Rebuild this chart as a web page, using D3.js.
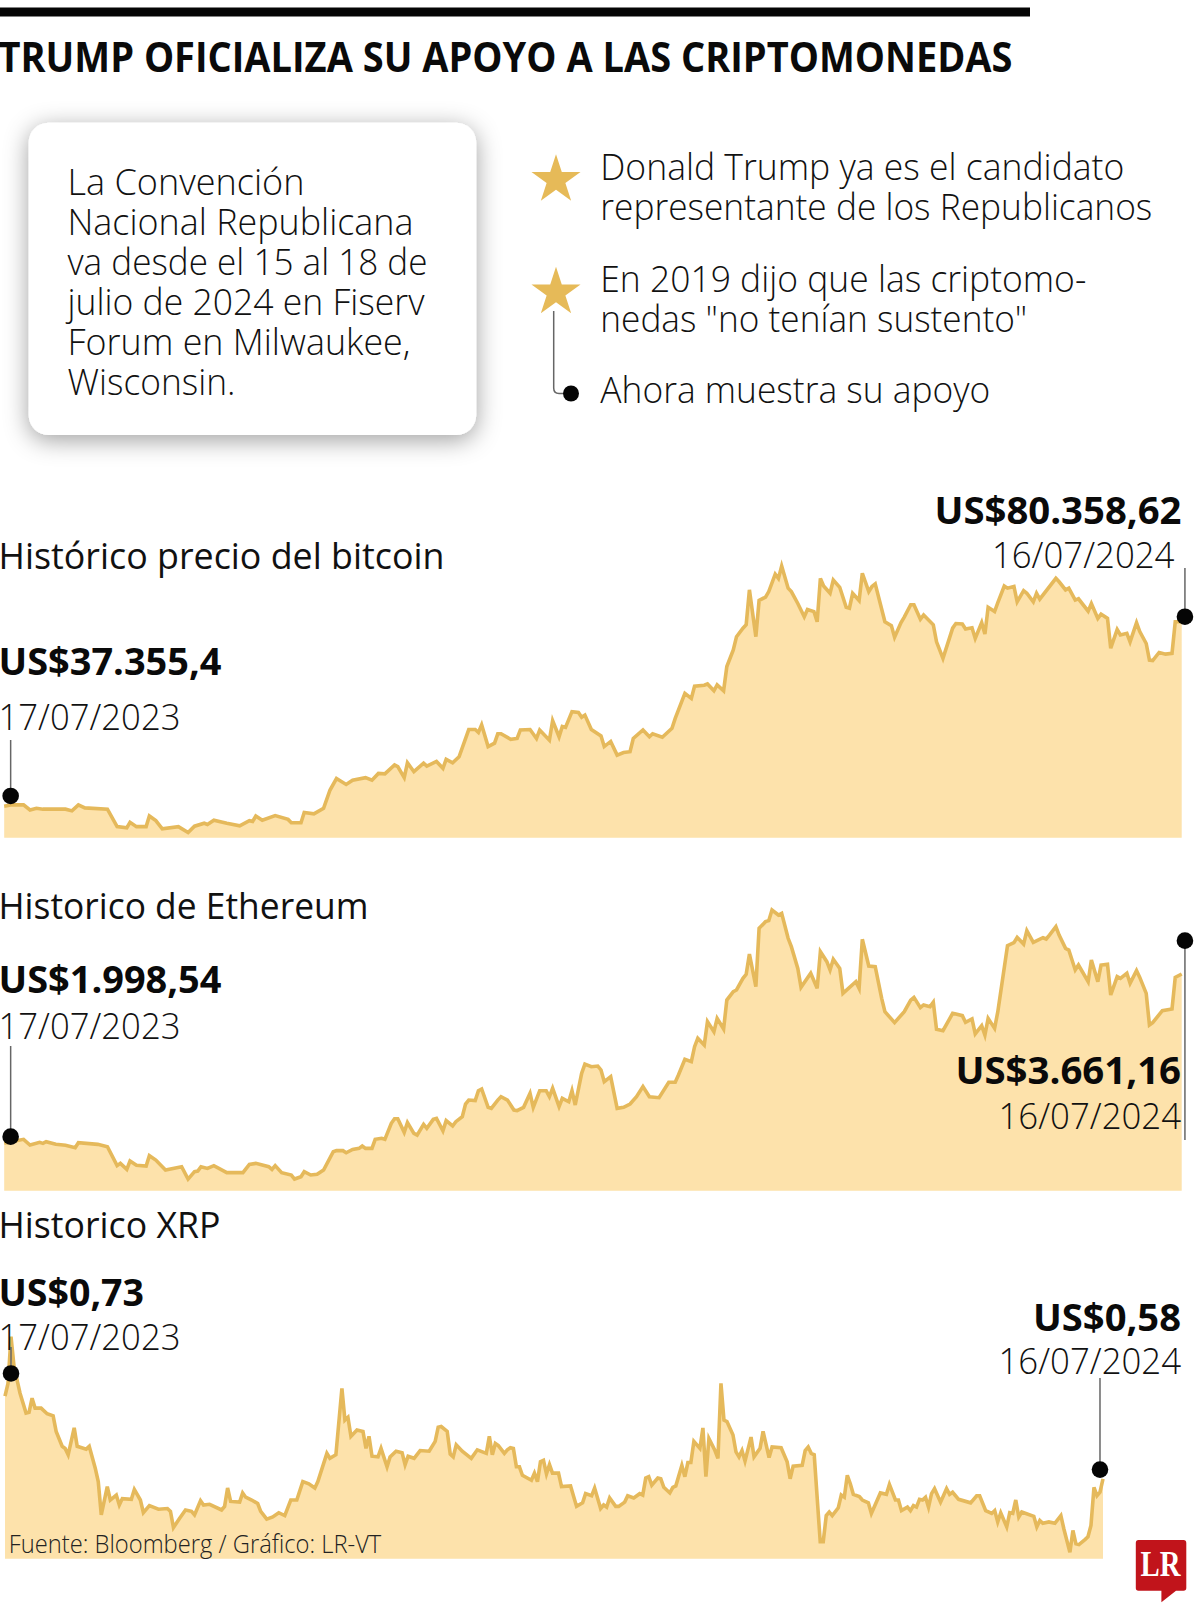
<!DOCTYPE html>
<html lang="es">
<head>
<meta charset="utf-8">
<title>Trump oficializa su apoyo a las criptomonedas</title>
<script src="https://cdn.jsdelivr.net/npm/d3@7/dist/d3.min.js"></script>
<style>
  body { margin: 0; background: #fff; }
  svg { display: block; }
  text { font-family: "Open Sans", "Noto Sans", sans-serif; fill: #111; }
  .titulo { font-size: 41px; font-weight: 700; fill: #0a0a0a; }
  .cuerpo { font-size: 37px; font-weight: 300; }
  .seccion { font-size: 37px; font-weight: 400; }
  .valor { font-size: 38px; font-weight: 700; fill: #0a0a0a; }
  .fecha { font-size: 37px; font-weight: 300; }
  .fuente { font-size: 26px; font-weight: 300; fill: #222; }
  .logo { font-family: "Liberation Serif", serif; font-size: 36px; font-weight: 700; fill: #fff; }
</style>
</head>
<body>
<div id="grafico"></div>
<script>
// [dia desde 17/07/2023, precio en miles de US$]
const bitcoin = [
  [0,37.1],[2,37.4],[6,37.4],[8,36.2],[10,36.6],[12,36.4],[15,36.4],[19,36.4],[21,36.0],[23,37.4],[25,36.7],[32,36.4],
  [35,32.3],[38,32.0],[39,33.3],[41,32.3],[44,32.3],[45,34.8],[47,33.7],[49,31.8],[54,32.3],[57,30.9],[59,32.4],[62,33.1],
  [63,32.8],[65,33.8],[69,33.1],[73,32.5],[76,33.7],[77,33.5],[78,34.8],[80,33.8],[84,34.9],[88,34.0],[89,33.2],[92,33.2],
  [93,35.6],[96,35.3],[99,36.6],[101,40.9],[103,43.6],[106,42.2],[108,43.2],[112,43.8],[114,43.2],[116,44.8],[118,44.7],
  [121,46.8],[122,46.4],[124,43.8],[125,47.3],[127,45.2],[130,47.2],[131,46.5],[134,47.6],[136,46.0],[137,48.1],[139,47.3],
  [141,48.7],[144,55.1],[146,55.1],[147,54.4],[148,56.2],[150,51.1],[152,51.9],[153,54.1],[154,54.1],[157,52.8],[159,53.0],
  [160,55.0],[163,55.1],[165,53.0],[166,55.0],[169,52.6],[170,57.2],[172,53.4],[173,55.8],[174,55.6],[176,59.3],[178,59.1],
  [179,58.0],[180,58.5],[182,55.1],[185,53.6],[186,51.1],[188,52.3],[190,49.1],[192,49.7],[194,49.9],[195,53.0],[198,55.0],
  [200,53.4],[201,54.1],[204,53.3],[207,55.4],[208,57.7],[211,63.6],[213,62.4],[214,65.3],[217,65.5],[218,65.8],[220,64.2],
  [221,65.6],[223,64.2],[224,69.9],[226,73.8],[227,76.9],[229,78.9],[230,79.7],[231,87.9],[233,76.9],[234,85.4],[236,86.2],
  [237,87.5],[239,91.6],[240,90.6],[241,93.5],[243,88.3],[244,87.5],[246,84.7],[248,81.6],[249,83.3],[251,82.8],[252,80.4],
  [253,90.6],[254,88.8],[256,87.1],[257,90.2],[259,88.5],[261,83.8],[262,83.6],[263,87.1],[265,85.4],[266,91.8],[268,87.5],
  [269,88.7],[270,89.3],[273,80.4],[275,79.5],[276,76.8],[278,80.2],[279,81.5],[281,84.4],[282,84.4],[284,81.0],[285,82.0],
  [288,79.7],[289,75.7],[291,71.8],[294,78.9],[295,80.0],[297,79.9],[298,78.7],[300,79.0],[301,76.5],[303,80.2],[304,77.5],
  [305,83.8],[307,82.8],[308,84.9],[310,88.8],[311,88.3],[313,88.7],[314,85.1],[316,87.7],[317,87.1],[319,85.1],[320,87.1],
  [321,85.7],[326,90.6],[327,89.8],[329,87.9],[330,88.3],[332,85.5],[333,85.8],[336,82.9],[337,84.7],[339,81.2],[340,82.2],
  [342,81.2],[343,74.2],[345,78.6],[346,77.3],[348,77.7],[349,75.7],[351,80.2],[352,78.1],[354,75.3],[355,71.4],[356,71.3],
  [358,73.2],[360,72.8],[362,73.0],[363,80.4],[365,80.4]
];

// [dia, precio en US$]
const ethereum = [
  [0,1944],[2,1961],[6,1985],[8,1927],[11,1954],[12,1944],[13,1961],[16,1934],[19,1924],[22,1900],[23,1951],[29,1934],
  [32,1910],[35,1718],[36,1741],[38,1680],[39,1765],[41,1721],[44,1714],[45,1819],[47,1775],[50,1674],[55,1707],[57,1582],
  [59,1657],[60,1663],[61,1707],[63,1690],[65,1718],[69,1647],[74,1647],[76,1731],[78,1741],[82,1707],[83,1680],[84,1718],
  [86,1647],[89,1623],[90,1582],[92,1606],[93,1657],[95,1623],[97,1630],[99,1674],[102,1859],[103,1870],[105,1870],[106,1849],
  [108,1883],[110,1893],[111,1917],[112,1893],[114,1893],[115,1985],[117,1995],[118,1985],[120,2147],[121,2194],[122,2194],
  [124,2056],[125,2154],[127,2045],[128,2028],[130,2137],[131,2096],[133,2187],[134,2197],[136,2072],[137,2174],[139,2120],
  [140,2164],[142,2214],[143,2343],[144,2383],[146,2377],[147,2478],[148,2495],[150,2309],[151,2299],[153,2383],[154,2417],
  [156,2383],[158,2282],[159,2275],[161,2309],[163,2451],[164,2309],[166,2478],[168,2478],[169,2417],[170,2502],[172,2316],
  [173,2400],[175,2366],[176,2478],[177,2333],[179,2654],[180,2748],[182,2721],[184,2728],[185,2688],[186,2569],[188,2620],
  [190,2299],[192,2309],[194,2343],[196,2417],[198,2519],[200,2417],[203,2407],[206,2563],[208,2563],[209,2637],[211,2796],
  [213,2772],[214,2924],[215,3009],[217,2941],[218,3178],[220,3076],[221,3211],[223,3103],[224,3397],[226,3482],[227,3499],
  [229,3617],[230,3658],[231,3864],[233,3533],[234,4124],[236,4192],[237,4202],[238,4310],[240,4259],[241,4276],[243,4023],
  [244,3938],[246,3718],[247,3526],[250,3668],[252,3516],[253,3887],[255,3786],[256,3702],[257,3810],[259,3718],[260,3465],
  [264,3583],[265,3516],[266,4013],[268,3742],[270,3735],[272,3414],[273,3279],[276,3168],[279,3279],[281,3397],[282,3424],
  [284,3320],[285,3347],[287,3330],[288,3374],[289,3100],[291,3086],[294,3262],[295,3255],[297,3239],[298,3171],[300,3205],
  [301,3053],[303,3137],[304,3042],[305,3211],[307,3110],[308,3279],[311,3948],[313,3979],[314,4033],[316,3965],[317,4100],
  [319,3982],[322,4029],[323,4016],[324,4056],[326,4141],[327,4056],[329,3921],[330,3904],[332,3702],[333,3752],[336,3583],
  [337,3803],[339,3583],[340,3752],[342,3759],[343,3448],[345,3634],[346,3617],[348,3668],[349,3566],[351,3695],[352,3627],
  [354,3465],[355,3144],[356,3168],[359,3289],[362,3306],[363,3627],[365,3661]
];

const xrp = [
  [0,.697],[1,.715],[2,.781],[3,.739],[4,.720],[5,.701],[7,.673],[8,.674],[9,.694],[10,.680],[12,.680],[14,.672],[16,.669],
  [17,.647],[19,.626],[20,.623],[21,.614],[23,.652],[24,.626],[27,.622],[28,.626],[30,.595],[31,.576],[32,.529],[34,.569],
  [35,.550],[37,.557],[38,.543],[39,.552],[42,.551],[43,.565],[45,.550],[46,.532],[48,.542],[51,.537],[54,.538],[55,.534],
  [56,.511],[58,.524],[60,.536],[62,.534],[63,.529],[65,.549],[66,.543],[68,.544],[72,.536],[73,.541],[74,.567],[75,.548],
  [78,.547],[79,.560],[80,.554],[82,.550],[84,.545],[85,.534],[87,.523],[89,.526],[91,.532],[93,.528],[95,.550],[97,.550],
  [99,.576],[101,.573],[103,.567],[104,.576],[107,.616],[108,.609],[110,.614],[112,.708],[113,.663],[114,.667],[115,.640],
  [117,.649],[119,.647],[120,.623],[121,.640],[122,.612],[124,.611],[125,.623],[127,.597],[128,.611],[130,.619],[132,.617],
  [133,.600],[134,.612],[136,.609],[138,.620],[141,.619],[143,.633],[144,.653],[145,.654],[147,.647],[148,.615],[149,.611],
  [150,.628],[152,.619],[155,.609],[157,.621],[160,.616],[161,.640],[162,.614],[163,.630],[164,.627],[166,.616],[167,.621],
  [168,.624],[169,.623],[170,.597],[171,.597],[172,.585],[175,.578],[176,.588],[177,.576],[178,.604],[179,.606],[180,.587],
  [181,.600],[182,.588],[184,.588],[185,.569],[188,.570],[190,.541],[192,.546],[193,.559],[195,.556],[196,.567],[198,.538],
  [199,.543],[200,.540],[201,.553],[203,.541],[204,.541],[206,.547],[207,.556],[209,.553],[211,.559],[212,.557],[213,.581],
  [214,.583],[215,.571],[217,.581],[218,.580],[219,.568],[221,.560],[222,.568],[223,.570],[225,.599],[226,.583],[227,.603],
  [228,.603],[229,.633],[231,.623],[232,.652],[233,.583],[234,.637],[236,.620],[237,.609],[238,.715],[239,.663],[240,.661],
  [242,.642],[243,.618],[244,.611],[245,.620],[246,.605],[248,.639],[249,.611],[251,.623],[252,.647],[254,.610],[255,.625],
  [258,.624],[260,.604],[261,.580],[262,.598],[265,.599],[266,.620],[267,.625],[268,.616],[269,.614],[271,.491],[272,.491],
  [273,.528],[274,.533],[275,.528],[277,.539],[278,.557],[279,.554],[280,.585],[281,.573],[282,.558],[284,.555],[285,.550],
  [287,.546],[288,.531],[291,.560],[293,.558],[294,.572],[296,.550],[297,.550],[298,.535],[300,.540],[301,.535],[302,.542],
  [303,.540],[304,.551],[305,.550],[306,.554],[307,.540],[308,.559],[309,.566],[311,.547],[313,.566],[314,.558],[315,.561],
  [317,.551],[321,.546],[323,.556],[324,.556],[326,.535],[328,.531],[329,.535],[330,.519],[331,.532],[333,.512],[334,.532],
  [335,.531],[336,.550],[337,.526],[338,.533],[342,.527],[343,.512],[344,.521],[345,.517],[347,.519],[349,.517],[351,.528],
  [352,.509],[354,.476],[355,.507],[356,.488],[357,.487],[359,.494],[360,.498],[361,.514],[362,.568],[363,.556],[364,.561],[365,.580]
];

// puntos negros: [dia, valor]
const puntosBitcoin = [[2,39.5],[366,81.6]];
const puntosEthereum = [[2,2012],[366,3999]];
const puntosXrp = [[2,.729],[364,.593]];

const parrafo = ["La Convención", "Nacional Republicana", "va desde el 15 al 18 de", "julio de 2024 en Fiserv", "Forum en Milwaukee,", "Wisconsin."];
const anchosParrafo = [235, 344, 358, 355, 341, 166];

const w = 1200, h = 1619;
const colorLinea = "#e5b95b", colorArea = "#fde2ab", colorGuia = "#666";

const svg = d3.select("#grafico").append("svg").attr("width", w).attr("height", h);

// ajusta el texto al ancho del original (la fuente original es mas estrecha)
function texto(x, y, str, ancho, clase) {
  return svg.append("text").attr("x", x - 1.5).attr("y", y).attr("class", clase)
    .attr("textLength", ancho + 2).attr("lengthAdjust", "spacingAndGlyphs").text(str);
}

function guia(d) {
  svg.append("path").attr("d", d).attr("fill", "none").attr("stroke", colorGuia).attr("stroke-width", 1.5);
}

function serie(datos, puntos, x, y, guias) {
  const base = y.range()[0];
  svg.append("path").datum(datos).attr("fill", colorArea)
    .attr("d", d3.area().x(d => x(d[0])).y0(base).y1(d => y(d[1])));
  svg.append("path").datum(datos).attr("fill", "none").attr("stroke", colorLinea).attr("stroke-width", 3.6)
    .attr("d", d3.line().x(d => x(d[0])).y(d => y(d[1])));
  puntos.forEach((p, i) => {
    guia(`M${x(p[0])},${guias[i]}L${x(p[0])},${y(p[1])}`);
    svg.append("circle").attr("cx", x(p[0])).attr("cy", y(p[1])).attr("r", 8.3).attr("fill", "#050505");
  });
}

// cabecera
svg.append("rect").attr("x", 0).attr("y", 7.5).attr("width", 1030).attr("height", 9).attr("fill", "#050505");
texto(0, 71.5, "TRUMP OFICIALIZA SU APOYO A LAS CRIPTOMONEDAS", 1012, "titulo");

// recuadro con sombra
const defs = svg.append("defs");
defs.append("filter").attr("id", "sombra").attr("x", "-20%").attr("y", "-20%").attr("width", "140%").attr("height", "140%")
  .append("feDropShadow").attr("dx", 0).attr("dy", 5).attr("stdDeviation", 12)
  .attr("flood-color", "#000").attr("flood-opacity", 0.38);
svg.append("rect").attr("x", 28.7).attr("y", 122.7).attr("width", 447.5).attr("height", 312.3).attr("rx", 20)
  .attr("fill", "#fff").attr("filter", "url(#sombra)");
parrafo.forEach((linea, i) => texto(69, 195 + i * 40, linea, anchosParrafo[i], "cuerpo"));

// lista
const estrella = d3.symbol().type(d3.symbolStar).size(747)();
[180, 292.5].forEach(cy => {
  svg.append("path").attr("d", estrella).attr("transform", `translate(556,${cy})`).attr("fill", "#e6ba58");
});
guia("M553.7,311L553.7,388Q553.7,393.5 559,393.5L571,393.5");
svg.append("circle").attr("cx", 571).attr("cy", 393.5).attr("r", 8).attr("fill", "#050505");
texto(601.8, 180, "Donald Trump ya es el candidato", 522, "cuerpo");
texto(601.8, 220, "representante de los Republicanos", 550, "cuerpo");
texto(601.8, 291.7, "En 2019 dijo que las criptomo-", 484, "cuerpo");
texto(601.8, 331.7, "nedas \"no tenían sustento\"", 425, "cuerpo");
texto(601.8, 403.3, "Ahora muestra su apoyo", 388, "cuerpo");

// escalas
const xGrande = d3.scaleLinear().domain([0, 365]).range([4.2, 1181.7]);
const xXrp = d3.scaleLinear().domain([0, 365]).range([5, 1103]);
const yBitcoin = d3.scaleLinear().domain([29.7, 93.5]).range([837.7, 566]);
const yEthereum = d3.scaleLinear().domain([1464, 4310]).range([1190.7, 910]);
const yXrp = d3.scaleLinear().domain([0.467, 0.781]).range([1558.7, 1336.7]);

serie(bitcoin, puntosBitcoin, xGrande, yBitcoin, [740, 568]);
serie(ethereum, puntosEthereum, xGrande, yEthereum, [1046, 1140]);
serie(xrp, puntosXrp, xXrp, yXrp, [1347, 1378]);

// bitcoin
texto(0, 569.3, "Histórico precio del bitcoin", 444, "seccion");
texto(0, 675, "US$37.355,4", 221, "valor");
texto(0, 730, "17/07/2023", 180, "fecha");
texto(936, 524.3, "US$80.358,62", 245, "valor");
texto(993.4, 567.7, "16/07/2024", 180.6, "fecha");

// ethereum
texto(0, 919.3, "Historico de Ethereum", 368, "seccion");
texto(0, 993.3, "US$1.998,54", 221, "valor");
texto(0, 1039.3, "17/07/2023", 180, "fecha");
texto(957, 1084, "US$3.661,16", 223.5, "valor");
texto(1000, 1129.3, "16/07/2024", 180.6, "fecha");

// xrp
texto(0, 1238.3, "Historico XRP", 220, "seccion");
texto(0, 1306, "US$0,73", 143.5, "valor");
texto(0, 1350, "17/07/2023", 180, "fecha");
texto(1034.5, 1330.7, "US$0,58", 146, "valor");
texto(1000, 1374, "16/07/2024", 180.6, "fecha");

texto(10.3, 1552.7, "Fuente: Bloomberg / Gráfico: LR-VT", 370.5, "fuente");

// logo
svg.append("path").attr("fill", "#c1141b")
  .attr("d", "M1138.5,1540H1183.5Q1186.3,1540 1186.3,1543V1588Q1186.3,1590.7 1183.5,1590.7H1176L1161.4,1602.3V1590.7H1138.5Q1135.8,1590.7 1135.8,1588V1543Q1135.8,1540 1138.5,1540Z");
texto(1142, 1576, "LR", 38, "logo");
</script>
</body>
</html>
